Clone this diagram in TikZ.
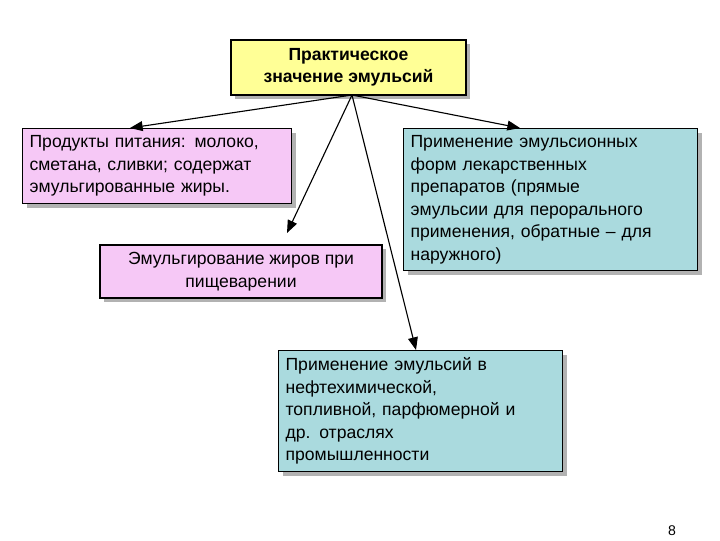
\documentclass[tikz,border=0pt]{standalone}
\usepackage{fontspec}
\setmainfont{Liberation Sans}
\usetikzlibrary{positioning}
\usetikzlibrary{arrows.meta}
\usetikzlibrary{shadows}
\tikzset{
    box/.style = {rectangle, thick, draw=black, inner sep=5pt, drop shadow={shadow xshift=3pt,shadow yshift=-3pt,fill=gray!60,opacity=1},font=\fontsize{12.5}{16}\selectfont},
    boxy/.style = {box, fill={rgb,255:red,255;green,255;blue,150}, align=center, font=\fontsize{12.5}{15.5}\selectfont\bfseries},
    boxp/.style = {box, fill={rgb,255:red,246;green,200;blue,246}},
    boxc/.style = {box, fill={rgb,255:red,170;green,218;blue,222}},
    edgen/.style = {-{Triangle[length=9pt,width=7pt]},thick},
}
\begin{document}
\begin{tikzpicture}[x=0.025cm,y=-0.025cm]
\path[use as bounding box] (0,0) rectangle (720,540);
%
\node[boxy,minimum width=235*0.025cm,minimum height=55*0.025cm] at (348.5,67.5) (top) {Практическое\\значение эмульсий};
\node[boxp,align=left,minimum width=268*0.025cm,minimum height=75*0.025cm,text width=255*0.025cm,anchor=north west] at (22,128) (food) {Продукты питания: молоко,\\сметана, сливки; содержат\\эмульгированные жиры.};
\node[boxp,align=center,minimum width=282*0.025cm,minimum height=53*0.025cm] at (241,271.5) (dig) {Эмульгирование  жиров при\\пищеварении};
\node[boxc,align=left,minimum width=294*0.025cm,minimum height=137*0.025cm,text width=280*0.025cm,anchor=north west] at (403,128) (drug) {Применение эмульсионных\\форм лекарственных\\препаратов  (прямые\\эмульсии  для перорального\\применения, обратные – для\\наружного)};
\node[boxc,align=left,minimum width=284*0.025cm,minimum height=120*0.025cm,text width=270*0.025cm,anchor=north west] at (278,350) (ind) {Применение эмульсий в\\нефтехимической,\\топливной, парфюмерной  и\\др. отраслях\\промышленности};
\node at (672,531) (num) {\fontsize{10}{12}\selectfont 8};
%
\coordinate (src) at (352,95);
\draw[edgen] (src) -- (130,128);
\draw[edgen] (src) -- (287,233);
\draw[edgen] (src) -- (520,128);
\draw[edgen] (src) -- (416,350);
\end{tikzpicture}
\end{document}
